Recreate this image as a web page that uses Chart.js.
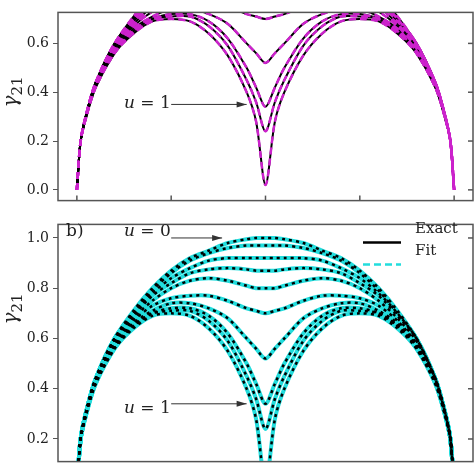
<!DOCTYPE html>
<html><head><meta charset="utf-8">
<script src="https://cdn.jsdelivr.net/npm/chart.js@4/dist/chart.umd.min.js"></script>
<style>
body{margin:0;background:#fff;overflow:hidden}
#wrap{position:relative;width:474px;height:474px;overflow:hidden}
.c{position:absolute;left:0}
.t{position:absolute;font-family:"DejaVu Serif","Liberation Serif",serif;font-size:17px;color:#222}
</style></head><body>
<div id="wrap">
<div class="c" style="top:0;width:474px;height:213px"><canvas id="top"></canvas></div>
<div class="c" style="top:212px;width:474px;height:262px"><canvas id="bot"></canvas></div>
<div class="t" style="left:-4px;top:78px;transform:rotate(-90deg);font-size:20px;font-style:italic">γ<sub style="font-style:normal;font-size:15px">21</sub></div>
<div class="t" style="left:-4px;top:295px;transform:rotate(-90deg);font-size:20px;font-style:italic">γ<sub style="font-style:normal;font-size:15px">21</sub></div>
<div class="t" style="left:124px;top:92px"><i>u</i> = 1</div>
<div class="t" style="left:124px;top:397px"><i>u</i> = 1</div>
<div class="t" style="left:124px;top:220px"><i>u</i> = 0</div>
<div class="t" style="left:66px;top:220px">b)</div>
<div class="t" style="left:415px;top:219px;font-size:15px">Exact</div>
<div class="t" style="left:415px;top:241px;font-size:15px">Fit</div>
</div>
<script>
// half-curve sample positions (left half, mirrored to the right)
const xHalf = [-1, -0.98, -0.95, -0.9, -0.8, -0.7, -0.6, -0.5, -0.4, -0.3, -0.2, -0.1, -0.05, 0];
// gamma_21 curves from u=0 (top) to u=1 (bottom), left half
const curves = [
  [0, .20, .31, .44, .60, .71, .80, .87, .92, .95, .98, .995, 1, 1],
  [0, .20, .31, .44, .60, .70, .79, .86, .91, .94, .96, .97, .97, .97],
  [0, .20, .31, .44, .60, .70, .78, .84, .88, .91, .92, .92, .92, .92],
  [0, .20, .31, .44, .60, .69, .77, .82, .86, .875, .88, .875, .87, .87],
  [0, .20, .31, .44, .59, .68, .75, .80, .83, .84, .83, .81, .80, .80],
  [0, .20, .31, .44, .58, .67, .73, .76, .77, .77, .75, .72, .71, .70],
  [0, .20, .31, .43, .57, .66, .71, .74, .74, .72, .68, .60, .56, .52],
  [0, .20, .30, .43, .57, .65, .70, .72, .72, .69, .62, .50, .42, .34],
  [0, .20, .30, .42, .56, .65, .70, .71, .71, .67, .59, .45, .36, .24],
  [0, .20, .30, .42, .56, .64, .69, .70, .69, .64, .55, .40, .28, .02]
];
const yTicksTop = [0, 0.2, 0.4, 0.6];
const yTicksBot = [0.2, 0.4, 0.6, 0.8, 1.0];
const xTicks = [-1, -0.5, 0, 0.5, 1];

function pts(h) {
  const left = xHalf.map((x, i) => ({x: x, y: h[i]}));
  const right = xHalf.slice(0, -1).reverse().map((x, i) => ({x: -x, y: h[xHalf.length - 2 - i]}));
  return left.concat(right);
}

const frame = {
  id: 'frame',
  afterDraw(c) {
    const a = c.chartArea, g = c.ctx;
    g.save(); g.strokeStyle = '#555'; g.lineWidth = 1.5;
    g.strokeRect(a.left, a.top, a.right - a.left, a.bottom - a.top);
    const ys = c.scales.y;
    ys.ticks.forEach(t => { const p = ys.getPixelForValue(t.value); g.beginPath(); g.moveTo(a.right, p); g.lineTo(a.right - 5, p); g.stroke(); });
    const xs = c.scales.x;
    if (c.options.showXTicks) {
      xTicks.forEach(v => { const p = xs.getPixelForValue(v); g.beginPath(); g.moveTo(p, a.bottom); g.lineTo(p, a.bottom - 5); g.stroke(); });
    }
    // arrows
    (c.options.arrows || []).forEach(r => {
      const x0 = xs.getPixelForValue(r[0]), y0 = ys.getPixelForValue(r[1]);
      const x1 = xs.getPixelForValue(r[2]), y1 = ys.getPixelForValue(r[3]);
      g.strokeStyle = '#333'; g.fillStyle = '#333'; g.lineWidth = 1;
      g.beginPath(); g.moveTo(x0, y0); g.lineTo(x1, y1); g.stroke();
      g.beginPath(); g.moveTo(x1, y1); g.lineTo(x1 - 10, y1 - 3); g.lineTo(x1 - 10, y1 + 3); g.closePath(); g.fill();
    });
    // legend
    if (c.options.legendBox) {
      g.lineWidth = 2.5; g.strokeStyle = '#000'; g.setLineDash([]);
      g.beginPath(); g.moveTo(363, a.top + 18); g.lineTo(401, a.top + 18); g.stroke();
      g.strokeStyle = '#22dddd'; g.setLineDash([7, 4]);
      g.beginPath(); g.moveTo(363, a.top + 40); g.lineTo(401, a.top + 40); g.stroke();
    }
    g.restore();
  }
};

function makeChart(id, ds, yMin, yMax, yTicks, showXTicks, arrows, legendBox) {
  new Chart(document.getElementById(id), {
    type: 'scatter',
    data: {datasets: ds},
    options: {
      responsive: true, maintainAspectRatio: false, animation: false,
      layout: {padding: {right: 1, top: 1, bottom: 1}},
      plugins: {legend: {display: false}, tooltip: {enabled: false}},
      elements: {point: {radius: 0}},
      arrows: arrows, legendBox: legendBox, showXTicks: showXTicks,
      scales: {
        x: {display: false, min: -1.1, max: 1.1},
        y: {min: yMin, max: yMax, grid: {display: true, drawOnChartArea: false, tickLength: 5, color: '#555'},
            border: {display: false},
            afterFit: s => { s.width = 58; },
            afterBuildTicks: s => { s.ticks = yTicks.map(v => ({value: v})); },
            ticks: {color: '#222', font: {family: 'DejaVu Serif', size: 14}, padding: 4,
                    callback: v => v.toFixed(1)}}
      }
    },
    plugins: [frame]
  });
}

// Chart.js paints dataset 0 on top, so the overlay series come first
const topDs = [];
curves.forEach(h => topDs.push({data: pts(h), showLine: true, borderColor: '#cc22cc', borderWidth: 2.5, borderDash: [7, 4], tension: 0.3, clip: 0}));
curves.forEach(h => topDs.push({data: pts(h), showLine: true, borderColor: '#000', borderWidth: 2, tension: 0.3, clip: 0}));
makeChart('top', topDs, -0.044, 0.727, yTicksTop, true, [[-0.5, 0.35, -0.1, 0.35]], false);

const botDs = [];
curves.forEach(h => botDs.push({data: pts(h), showLine: true, borderColor: '#000', borderWidth: 2.5, borderDash: [3, 4], tension: 0.3, clip: 0}));
curves.forEach(h => botDs.push({data: pts(h), showLine: true, borderColor: '#22dddd', borderWidth: 4, tension: 0.3, clip: 0}));
makeChart('bot', botDs, 0.11, 1.054, yTicksBot, false, [[-0.5, 1.0, -0.23, 1.0], [-0.5, 0.34, -0.1, 0.34]], true);
</script>
</body></html>
